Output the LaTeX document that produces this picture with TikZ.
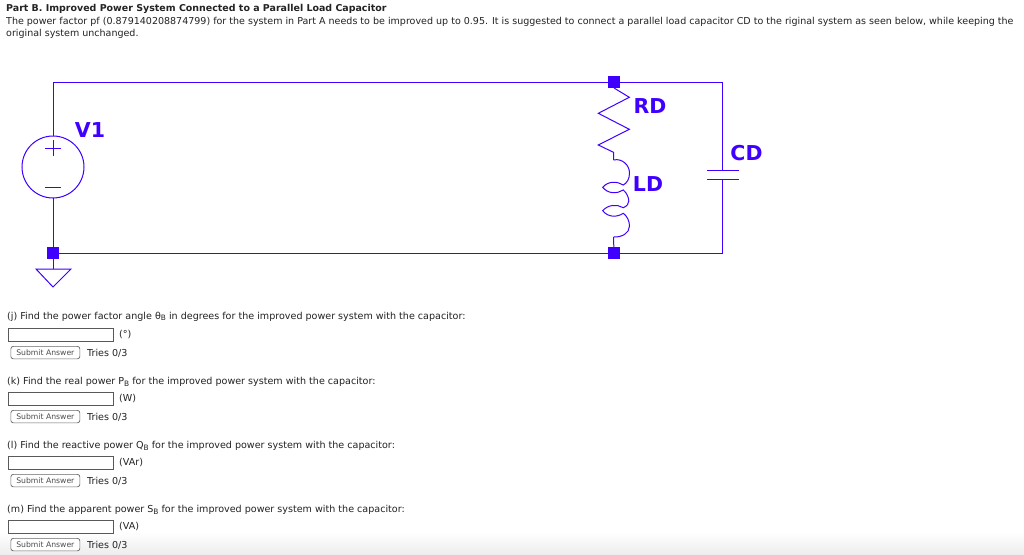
\documentclass[tikz,border=0pt]{standalone}
\usepackage{fontspec}
\setmainfont{DejaVu Sans}
\usetikzlibrary{positioning}
\definecolor{cblue}{RGB}{64,0,255}
\definecolor{txt}{RGB}{35,35,35}
\newcommand{\bodyf}{\fontsize{9.53}{11}\selectfont}
\newcommand{\qf}{\fontsize{9.57}{11}\selectfont}
\newcommand{\sbs}[1]{\raisebox{-1.6pt}{\fontsize{7.4}{8}\selectfont #1}}
\tikzset{
  wire/.style={draw=cblue,line width=1pt,line join=miter},
  junction/.style={fill=cblue,draw=none,minimum size=12pt,inner sep=0pt,outer sep=0pt,rectangle},
  complabel/.style={text=cblue,font=\bfseries\fontsize{20.5}{24}\selectfont,inner sep=0pt},
  para/.style={anchor=base west,inner sep=0pt,text=txt,font=\bodyf},
  ques/.style={para,font=\qf},
  ansbox/.style={draw=black!65,fill=white,line width=0.7pt,minimum width=105pt,minimum height=13pt,inner sep=0pt,anchor=north west},
  submitbtn/.style={draw=black!60,fill=white,rounded corners=2.5pt,line width=0.7pt,minimum width=69pt,minimum height=12.5pt,inner sep=0pt,anchor=north west,text=black!70,font=\fontsize{7.7}{9}\selectfont},
}
\begin{document}
\begin{tikzpicture}[x=1pt,y=-1pt]
\useasboundingbox (0,0) rectangle (1024,554);
\fill[white] (0,0) rectangle (1024,554);
\shade[top color=white,bottom color=black!7] (0,532) rectangle (1024,554);

% header text
\node[para,font=\fontsize{9.46}{11}\selectfont\bfseries] (title) at (6,11) {Part B. Improved Power System Connected to a Parallel Load Capacitor};
\node[para] (line1) at (6,24) {The power factor pf (0.879140208874799) for the system in Part A needs to be improved up to 0.95. It is suggested to connect a parallel load capacitor CD to the riginal system as seen below, while keeping the};
\node[para] (line2) at (6,36) {original system unchanged.};

% circuit
\coordinate (tl) at (53,82);
\coordinate (tr) at (722,82);
\coordinate (br) at (722,253);
\node[junction] (ntop) at (614,82) {};
\node[junction] (nbot) at (614,253) {};
\node[junction] (ngnd) at (53,253) {};
\node[circle,draw=cblue,line width=1pt,minimum size=62pt,inner sep=0pt,outer sep=0pt] (src) at (53,167) {};
\coordinate (gtop) at (53,269);
\coordinate (capt) at (722,170.7);
\coordinate (capb) at (722,179);
\coordinate (rtop) at (614,88);
\coordinate (lbot) at (613.5,237);

\draw[wire] (src.north) -- (tl) -- (ntop) -- (tr) -- (capt);
\draw[wire] (capb) -- (br) -- (nbot) -- (ngnd) -- (src.south);
\draw[wire] (ngnd) -- (gtop);
% plus, minus
\draw[wire] (45,148) -- (61,148) (53,140) -- (53,156);
\draw[wire] (45,187) -- (61,187);
% ground
\draw[wire] (36,269) -- (71,269) -- (53,287) -- cycle;
% capacitor
\draw[wire] (707,170.7) -- (739,170.7);
\draw[wire] (707,179) -- (739,179);
% resistor
\draw[wire] (ntop) -- (rtop) -- (629.3,97.3) -- (598.3,113.3) -- (629.3,129.3) -- (598.3,145) -- (613.5,152.3) -- (613.5,160);
% inductor
\draw[wire] (613.5,160)
  .. controls (622,158) and (629.5,165) .. (629.5,173)
  .. controls (629.5,179) and (627,183) .. (623.3,185)
  .. controls (617,181) and (608,181) .. (602.7,187.3)
  .. controls (608,194) and (617,194) .. (623.3,190)
  .. controls (627,193) and (628.8,198) .. (628.8,201)
  .. controls (628.8,204) and (627,206) .. (623.3,207.7)
  .. controls (617,204) and (608,204.5) .. (602.7,210.7)
  .. controls (608,217.5) and (617,217.5) .. (623.3,213.3)
  .. controls (627,216) and (629.5,221) .. (629.5,226)
  .. controls (629.5,233) and (622,237.5) .. (lbot);
\draw[wire] (lbot) -- (nbot);

\node[complabel] (lv) at (90,130) {V1};
\node[complabel] (lr) at (650,106) {RD};
\node[complabel] (ll) at (648,184) {LD};
\node[complabel] (lc) at (746.5,153) {CD};

% question j
\node[ques] (qj) at (7,319) {(j) Find the power factor angle θ\sbs{B} in degrees for the improved power system with the capacitor:};
\node[ansbox] (aj) at (8,327.5) {};
\node[ques] (uj) at (119,337.5) {(°)};
\node[submitbtn] (sj) at (10.5,346) {Submit Answer};
\node[ques] (tj) at (87,356) {Tries 0/3};
% question k
\node[ques] (qk) at (7,384.7) {(k) Find the real power P\sbs{B} for the improved power system with the capacitor:};
\node[ansbox] (ak) at (8,391.5) {};
\node[ques] (uk) at (119,401.5) {(W)};
\node[submitbtn] (sk) at (10.5,410) {Submit Answer};
\node[ques] (tk) at (87,420) {Tries 0/3};
% question l
\node[ques] (ql) at (7,448.7) {(l) Find the reactive power Q\sbs{B} for the improved power system with the capacitor:};
\node[ansbox] (al) at (8,455.5) {};
\node[ques] (ul) at (119,465.5) {(VAr)};
\node[submitbtn] (sl) at (10.5,474) {Submit Answer};
\node[ques] (tl2) at (87,484) {Tries 0/3};
% question m
\node[ques] (qm) at (7,512.7) {(m) Find the apparent power S\sbs{B} for the improved power system with the capacitor:};
\node[ansbox] (am) at (8,519.5) {};
\node[ques] (um) at (119,529.5) {(VA)};
\node[submitbtn] (sm) at (10.5,538) {Submit Answer};
\node[ques] (tm) at (87,548) {Tries 0/3};
\end{tikzpicture}
\end{document}
